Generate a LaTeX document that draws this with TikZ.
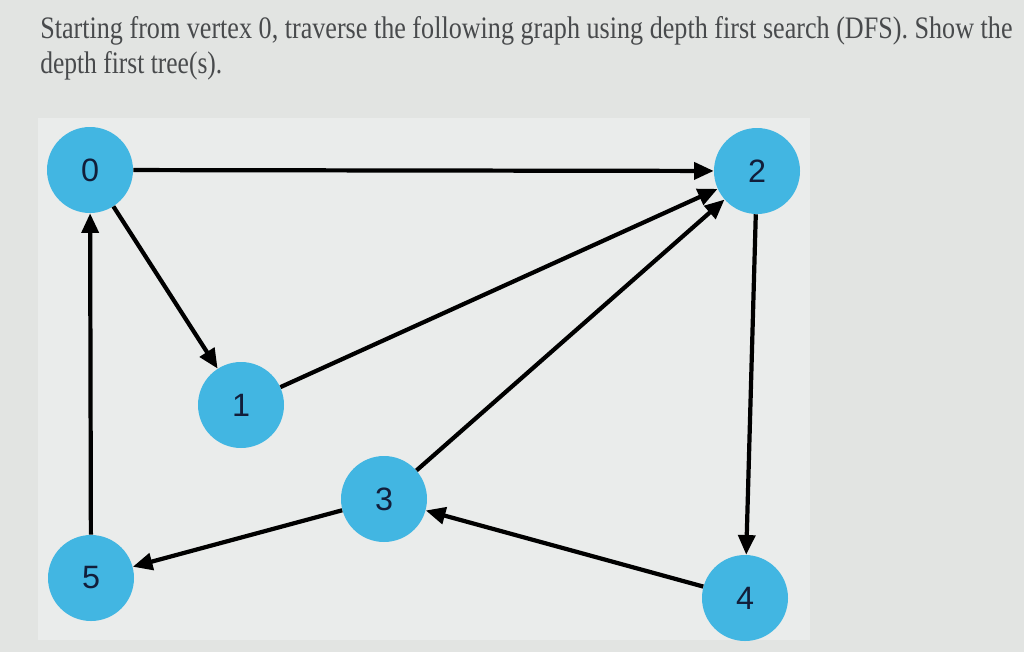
\documentclass[tikz,border=0pt]{standalone}
\usepackage{fontspec}
\setmainfont{Liberation Serif}
\newfontfamily\numfont{Liberation Sans}
\usetikzlibrary{arrows.meta}
\definecolor{screen}{RGB}{226,228,226}
\definecolor{panel}{RGB}{234,236,235}
\definecolor{vtxblue}{RGB}{66,182,226}
\definecolor{vtxtext}{RGB}{18,30,58}
\definecolor{qtext}{RGB}{72,74,76}
\tikzset{
  vtx/.style={circle, fill=vtxblue, minimum size=86*0.025cm, inner sep=0pt, font=\numfont\fontsize{23}{23}\selectfont, text=vtxtext},
  edge/.style={line width=3pt, -{Triangle[length=14pt,width=12pt]}},
  qline/.style={anchor=base west, inner sep=0pt, text=qtext, font=\fontsize{19}{23}\selectfont}
}
\begin{document}
\begin{tikzpicture}[x=0.025cm,y=-0.025cm]

    % Background
    \fill[screen] (0,0) rectangle (1024,652);
    \fill[panel] (38,118) rectangle (810,640);
    \useasboundingbox (0,0) rectangle (1024,652);

    % Question
    \node[qline] (line1) at (40,38) {\resizebox{24.3cm}{0.55cm}{Starting from vertex 0, traverse the following graph using depth first search (DFS). Show the}};
    \node[qline] (line2) at (40,73) {\resizebox{4.55cm}{0.55cm}{depth first tree(s).}};

    % Nodes
    \node[vtx] (v0) at (90,170) {0};
    \node[vtx] (v1) at (241,405) {1};
    \node[vtx] (v2) at (757,171) {2};
    \node[vtx] (v3) at (384,499) {3};
    \node[vtx] (v4) at (745,598) {4};
    \node[vtx] (v5) at (91,578) {5};

    % Edges
    \draw[edge] (v0) -- (v2);
    \draw[edge] (v0) -- (v1);
    \draw[edge] (v1) -- (v2);
    \draw[edge] (v3) -- (v2);
    \draw[edge] (v2) -- (v4);
    \draw[edge] (v4) -- (v3);
    \draw[edge] (v3) -- (v5);
    \draw[edge] (v5) -- (v0);

  \end{tikzpicture}
\end{document}
